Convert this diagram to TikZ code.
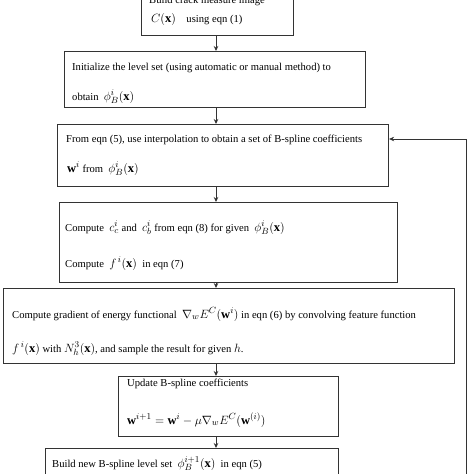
\documentclass[tikz,border=0pt]{standalone}
\usepackage{fontspec}
\setmainfont{Liberation Serif}
\usetikzlibrary{arrows.meta}
\definecolor{linegray}{HTML}{333333}
\newcommand\mymath[1]{{\fontsize{12.5}{14}\selectfont$#1$}}
\begin{document}
\begin{tikzpicture}[x=1pt,y=-1pt,
  box/.style={draw=linegray, line width=1.1pt, rectangle, anchor=north west, inner sep=0pt},
  txt/.style={anchor=base west, inner sep=0pt, font=\fontsize{10.6}{12}\selectfont, text=black},
  arr/.style={draw=linegray, line width=0.9pt, -{Stealth[length=5pt,width=4.5pt]}},
  fbline/.style={draw=linegray, line width=0.9pt}]
\useasboundingbox (0,0) rectangle (474,474);
\clip (0,0) rectangle (474,474);
\fill[white] (0,0) rectangle (474,474);
% boxes
\node[box, minimum width=152pt, minimum height=55pt] (b1) at (141,-20) {};
\node[box, minimum width=301pt, minimum height=56pt] (b2) at (64,51) {};
\node[box, minimum width=331pt, minimum height=62pt] (b3) at (57,124) {};
\node[box, minimum width=338pt, minimum height=80pt] (b4) at (59,202) {};
\node[box, minimum width=451pt, minimum height=75pt] (b5) at (3,288) {};
\node[box, minimum width=220pt, minimum height=60pt] (b6) at (118,376) {};
\node[box, minimum width=293pt, minimum height=45pt] (b7) at (45,448) {};
% texts
\node[txt] (t1a) at (149,3) {Build crack measure image};
\node[txt] (t1b) at (151,22) {\mymath{C(\mathbf{x})}\quad using eqn (1)};
\node[txt] (t2a) at (72,70) {Initialize the level set (using automatic or manual method) to};
\node[txt] (t2b) at (72,100) {obtain\ \ \mymath{\phi_B^i(\mathbf{x})}};
\node[txt] (t3a) at (66,142) {From eqn (5), use interpolation to obtain a set of B-spline coefficients};
\node[txt] (t3b) at (67,172) {\mymath{\mathbf{w}^i} from\ \ \mymath{\phi_B^i(\mathbf{x})}};
\node[txt] (t4a) at (65,231) {Compute\ \ \mymath{c_c^i} and\ \ \mymath{c_b^i} from eqn (8) for given\ \ \mymath{\phi_B^i(\mathbf{x})}};
\node[txt] (t4b) at (65,267) {Compute\ \ \mymath{f^{\,i}(\mathbf{x})}\ \ in eqn (7)};
\node[txt] (t5a) at (12,318) {Compute gradient of energy functional\ \ \mymath{\nabla_w E^C(\mathbf{w}^i)} in eqn (6) by convolving feature function};
\node[txt] (t5b) at (12,352) {\mymath{f^{\,i}(\mathbf{x})} with \mymath{N_h^3(\mathbf{x})}, and sample the result for given \mymath{h}.};
\node[txt] (t6a) at (127,386) {Update B-spline coefficients};
\node[txt] (t6b) at (127,424) {\mymath{\mathbf{w}^{i+1}=\mathbf{w}^i-\mu\nabla_w E^C(\mathbf{w}^{(i)})}};
\node[txt] (t7) at (52,467) {Build new B-spline level set\ \ \mymath{\phi_B^{i+1}(\mathbf{x})}\ \ in eqn (5)};
% arrows
\coordinate (ax) at (216,0);
\draw[arr] (b1.south -| ax) -- (b2.north -| ax);
\draw[arr] (b2.south -| ax) -- (b3.north -| ax);
\draw[arr] (b3.south -| ax) -- (b4.north -| ax);
\draw[arr] (b4.south -| ax) -- (b5.north -| ax);
\draw[arr] (b5.south -| ax) -- (b6.north -| ax);
\draw[arr] (b6.south -| ax) -- (b7.north -| ax);
% feedback
\coordinate (fbot) at (466,480);
\coordinate (ftop) at (466,139);
\draw[fbline] (fbot) -- (ftop);
\draw[arr] (ftop) -- (ftop -| b3.east);
\end{tikzpicture}
\end{document}
